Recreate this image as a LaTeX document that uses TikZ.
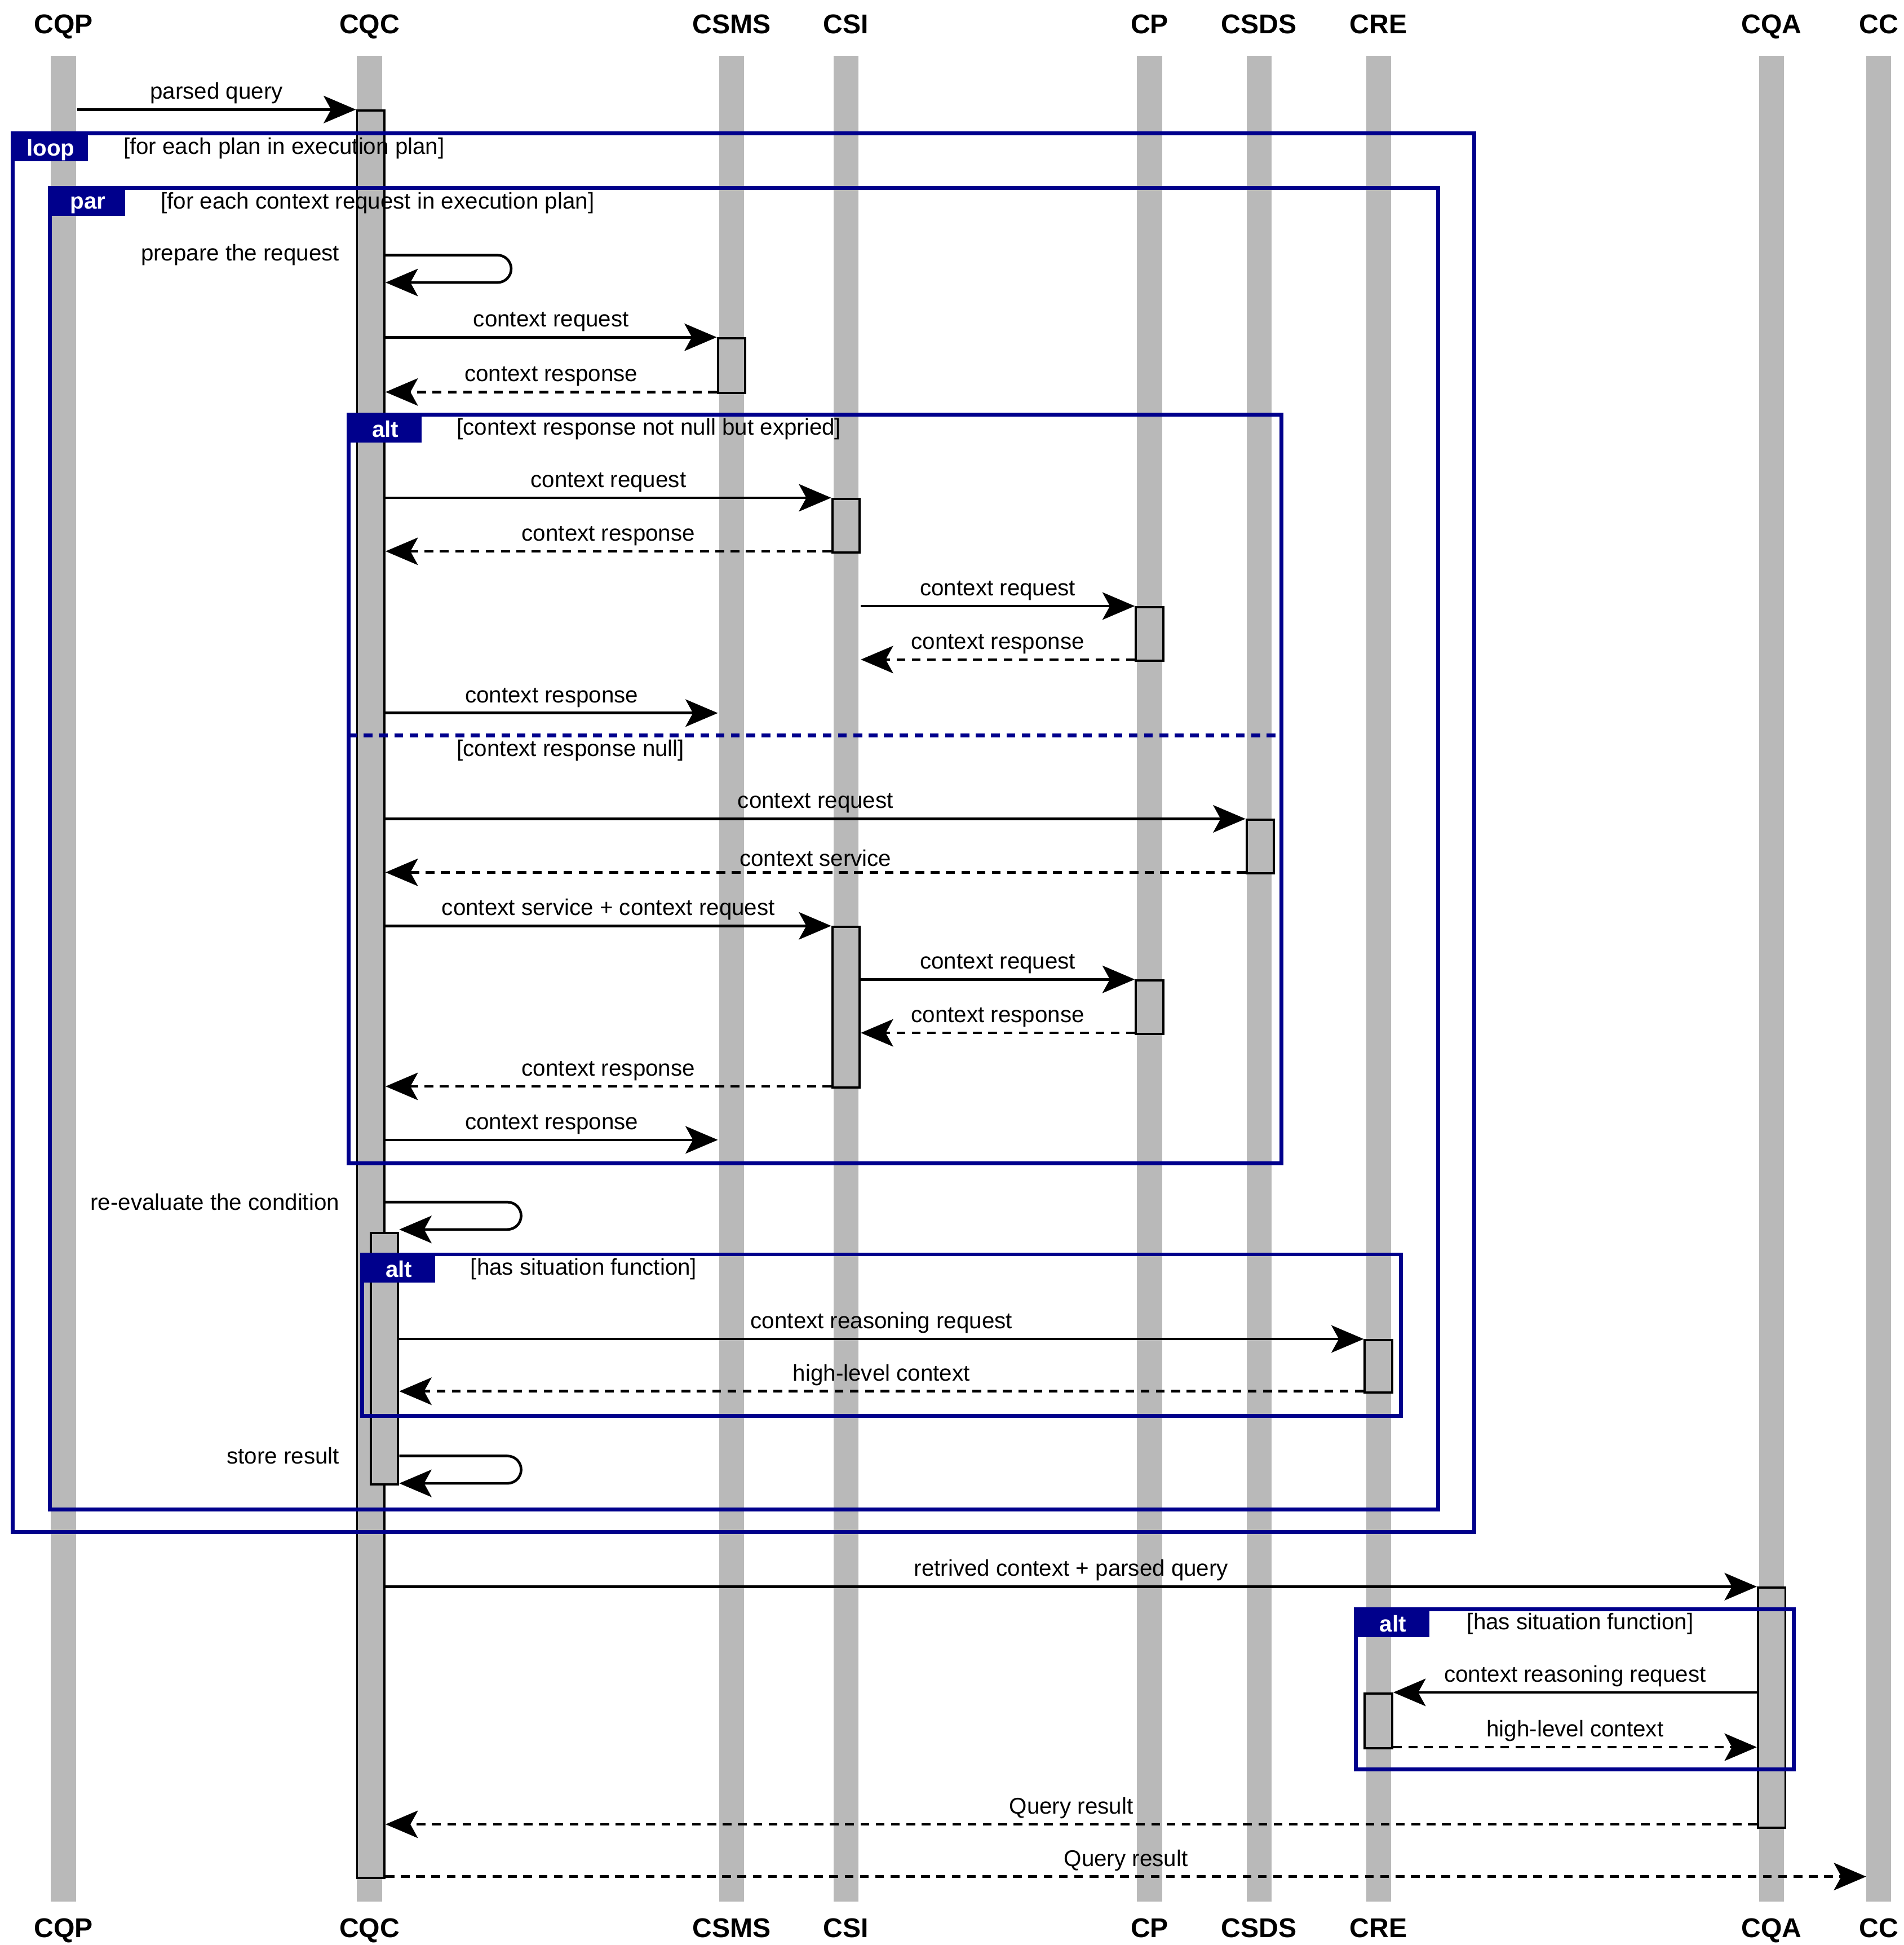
\documentclass[tikz,border=0pt]{standalone}
\usepackage{fontspec}
\setmainfont{Liberation Sans}
\usetikzlibrary{arrows.meta, positioning}
\definecolor{frameblue}{RGB}{0,0,140}
\tikzset{
	life/.style={line width=0.2cm, draw=gray!55}, % life lines
	actor/.style={font=\bfseries\fontsize{6.2}{7}\selectfont, anchor=base},
	act/.style={draw=black, fill=gray!55, line width=0.5pt, minimum width=0.22cm, inner sep=0pt},
	msg/.style={line width=0.6pt, -{Stealth[length=0.26cm, width=0.22cm, inset=0.06cm]}},
	reply/.style={msg, dash pattern=on 2pt off 1.5pt},
	lbl/.style={font=\fontsize{5.2}{6}\selectfont, inner sep=1pt},
	frame/.style={draw=frameblue, line width=0.9pt},
	tag/.style={fill=frameblue, text=white, font=\bfseries\fontsize{5.2}{6}\selectfont, anchor=north west, minimum height=0.22cm, inner sep=1pt, text depth=0pt, align=left},
}
\begin{document}
\begin{tikzpicture}
\useasboundingbox (0,0) rectangle (15.3,-15.63);
% life lines with names top and bottom
\foreach \n/\x in {CQP/0.51, CQC/2.97, CSMS/5.88, CSI/6.80, CP/9.24, CSDS/10.12, CRE/11.08, CQA/14.24, CC/15.10} {
	\draw[life] (\x,-0.45) -- (\x,-15.28);
	\node[actor] (top\n) at (\x,-0.27) {\n};
	\node[actor] (bot\n) at (\x,-15.57) {\n};
}
% activations
\node[act, minimum height=14.20cm, anchor=north] (aCQC) at (2.98,-0.88) {};
\node[act, minimum height=0.44cm, anchor=north] (aCSMS) at (5.88,-2.71) {};
\node[act, minimum height=0.43cm, anchor=north] (aCSI1) at (6.80,-4.00) {};
\node[act, minimum height=0.43cm, anchor=north] (aCP1) at (9.24,-4.87) {};
\node[act, minimum height=0.43cm, anchor=north] (aCSDS) at (10.13,-6.58) {};
\node[act, minimum height=1.29cm, anchor=north] (aCSI2) at (6.80,-7.44) {};
\node[act, minimum height=0.43cm, anchor=north] (aCP2) at (9.24,-7.87) {};
\node[act, minimum height=2.02cm, anchor=north] (aCQC2) at (3.09,-9.90) {};
\node[act, minimum height=0.42cm, anchor=north] (aCRE1) at (11.08,-10.76) {};
\node[act, minimum height=1.93cm, anchor=north] (aCQA) at (14.24,-12.75) {};
\node[act, minimum height=0.44cm, anchor=north] (aCRE2) at (11.08,-13.60) {};
% frames
\draw[frame] (0.10,-1.07) rectangle (11.85,-12.31);
\node[tag, minimum width=0.6cm] (tagloop) at (0.10,-1.07) {loop};
\node[lbl, anchor=west] at (0.95,-1.19) {[for each plan in execution plan]};
\draw[frame] (0.40,-1.51) rectangle (11.56,-12.13);
\node[tag, minimum width=0.6cm] (tagpar) at (0.40,-1.51) {par};
\node[lbl, anchor=west] at (1.25,-1.63) {[for each context request in execution plan]};
\draw[frame] (2.80,-3.33) rectangle (10.30,-9.35);
\node[tag, minimum width=0.58cm] (tagalt1) at (2.80,-3.33) {alt};
\node[lbl, anchor=west] at (3.63,-3.45) {[context response not null but expried]};
\draw[frame, dash pattern=on 2pt off 1.5pt] (2.80,-5.91) -- (10.30,-5.91);
\node[lbl, anchor=west] at (3.63,-6.03) {[context response null]};
\draw[frame] (2.91,-10.08) rectangle (11.26,-11.38);
\node[tag, minimum width=0.58cm] (tagalt2) at (2.91,-10.08) {alt};
\node[lbl, anchor=west] at (3.74,-10.20) {[has situation function]};
\draw[frame] (10.90,-12.93) rectangle (14.42,-14.22);
\node[tag, minimum width=0.58cm] (tagalt3) at (10.90,-12.93) {alt};
\node[lbl, anchor=west] at (11.75,-13.05) {[has situation function]};
% messages
\draw[msg] (0.62,-0.88) -- node[lbl, above] {parsed query} (aCQC.north west);
\draw[msg] (aCQC.east |- 0,-2.05) -- ++(0.9,0) arc (90:-90:0.11) -- (aCQC.east |- 0,-2.27);
\node[lbl, anchor=east] at (2.77,-2.05) {prepare the request};
\draw[msg] (aCQC.east |- 0,-2.71) -- node[lbl, above] {context request} (aCSMS.west |- 0,-2.71);
\draw[reply] (aCSMS.west |- 0,-3.15) -- node[lbl, above] {context response} (aCQC.east |- 0,-3.15);
\draw[msg] (aCQC.east |- 0,-4.00) -- node[lbl, above] {context request} (aCSI1.west |- 0,-4.00);
\draw[reply] (aCSI1.west |- 0,-4.43) -- node[lbl, above] {context response} (aCQC.east |- 0,-4.43);
\draw[msg] (aCSI1.east |- 0,-4.87) -- node[lbl, above] {context request} (aCP1.west |- 0,-4.87);
\draw[reply] (aCP1.west |- 0,-5.30) -- node[lbl, above] {context response} (aCSI1.east |- 0,-5.30);
\draw[msg] (aCQC.east |- 0,-5.73) -- node[lbl, above] {context response} (5.77,-5.73);
\draw[msg] (aCQC.east |- 0,-6.58) -- node[lbl, above] {context request} (aCSDS.west |- 0,-6.58);
\draw[reply] (aCSDS.west |- 0,-7.01) -- node[lbl, above] {context service} (aCQC.east |- 0,-7.01);
\draw[msg] (aCQC.east |- 0,-7.44) -- node[lbl, above] {context service + context request} (aCSI2.west |- 0,-7.44);
\draw[msg] (aCSI2.east |- 0,-7.87) -- node[lbl, above] {context request} (aCP2.west |- 0,-7.87);
\draw[reply] (aCP2.west |- 0,-8.30) -- node[lbl, above] {context response} (aCSI2.east |- 0,-8.30);
\draw[reply] (aCSI2.west |- 0,-8.73) -- node[lbl, above] {context response} (aCQC.east |- 0,-8.73);
\draw[msg] (aCQC.east |- 0,-9.16) -- node[lbl, above] {context response} (5.77,-9.16);
\draw[msg] (aCQC.east |- 0,-9.66) -- ++(0.98,0) arc (90:-90:0.11) -- (aCQC2.east |- 0,-9.88);
\node[lbl, anchor=east] at (2.77,-9.66) {re-evaluate the condition};
\draw[msg] (aCQC2.east |- 0,-10.76) -- node[lbl, above] {context reasoning request} (aCRE1.west |- 0,-10.76);
\draw[reply] (aCRE1.west |- 0,-11.18) -- node[lbl, above] {high-level context} (aCQC2.east |- 0,-11.18);
\draw[msg] (aCQC2.east |- 0,-11.70) -- ++(0.87,0) arc (90:-90:0.11) -- (aCQC2.east |- 0,-11.92);
\node[lbl, anchor=east] at (2.77,-11.70) {store result};
\draw[msg] (aCQC.east |- 0,-12.75) -- node[lbl, above] {retrived context + parsed query} (aCQA.west |- 0,-12.75);
\draw[msg] (aCQA.west |- 0,-13.60) -- node[lbl, above] {context reasoning request} (aCRE2.east |- 0,-13.60);
\draw[reply] (aCRE2.east |- 0,-14.04) -- node[lbl, above] {high-level context} (aCQA.west |- 0,-14.04);
\draw[reply] (aCQA.west |- 0,-14.66) -- node[lbl, above] {Query result} (aCQC.east |- 0,-14.66);
\draw[reply] (aCQC.east |- 0,-15.08) -- node[lbl, above] {Query result} (15.00,-15.08);
\end{tikzpicture}
\end{document}
